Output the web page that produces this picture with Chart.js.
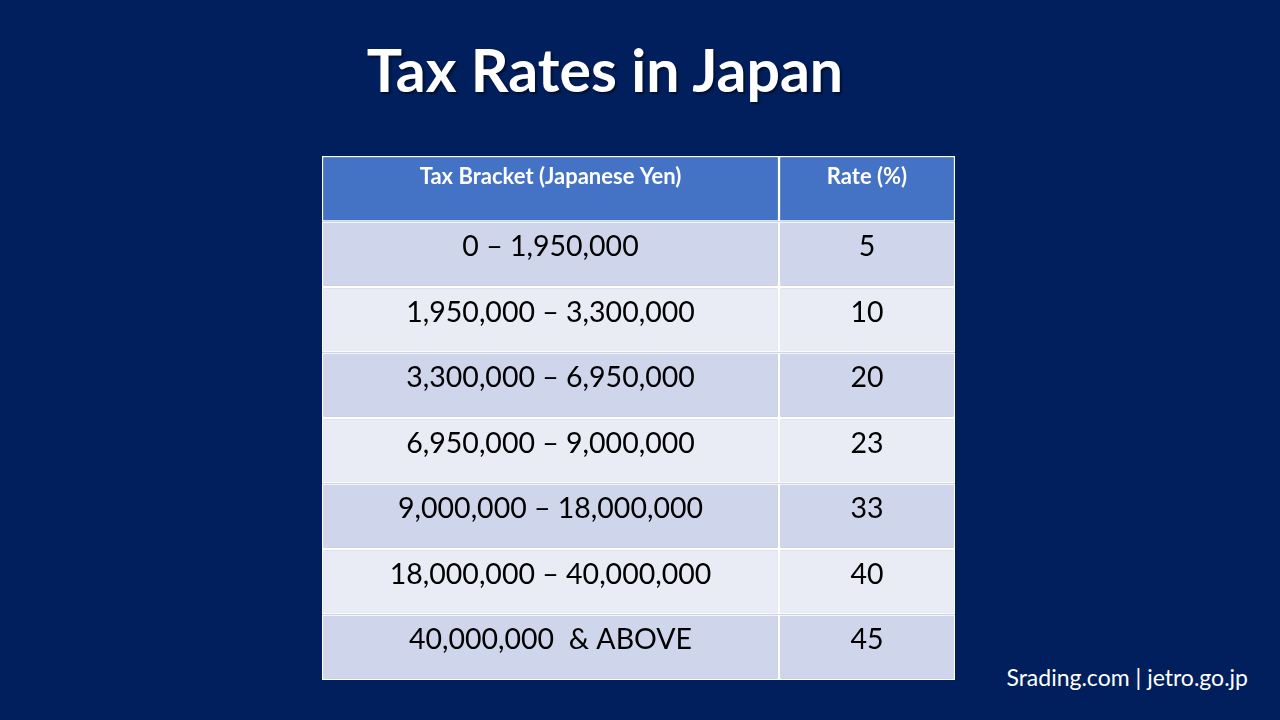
<!DOCTYPE html>
<html>
<head>
<meta charset="utf-8">
<script src="https://cdn.jsdelivr.net/npm/chart.js@4"></script>
<style>
  body { margin: 0; background: #001f5c; width: 1280px; height: 720px; overflow: hidden; position: relative; font-family: Lato, "Open Sans", sans-serif; }
  #title { position: absolute; left: 0; width: 1210px; top: 34px; text-align: center; color: #fff; font-size: 59px; font-weight: bold; text-shadow: 2px 2px 2px rgba(0,0,0,0.5); }
  #source { position: absolute; right: 32px; top: 663px; color: #fff; font-size: 23px; }
  #wrap { position: absolute; left: 0; top: 0; width: 1280px; height: 720px; }
</style>
</head>
<body>
<div id="title">Tax Rates in Japan</div>
<div id="source">Srading.com | jetro.go.jp</div>
<div id="wrap"><canvas id="c"></canvas></div>
<script>
// データ
const headers = ["Tax Bracket (Japanese Yen)", "Rate (%)"];
const brackets = ["0 – 1,950,000", "1,950,000 – 3,300,000", "3,300,000 – 6,950,000", "6,950,000 – 9,000,000",
                  "9,000,000 – 18,000,000", "18,000,000 – 40,000,000", "40,000,000  & ABOVE"];
const rates = ["5", "10", "20", "23", "33", "40", "45"];

const col1Share = 0.722; // 列幅の比率
const rows = ["header", ...brackets];
const rowColor = (i) => i === 0 ? "#4472c4" : (i % 2 === 1 ? "#cfd5ea" : "#e9ebf5");

// セルの文字を描く
const cellText = {
  id: "cellText",
  afterDatasetsDraw(chart) {
    const ctx = chart.ctx;
    ctx.save();
    ctx.textAlign = "center";
    ctx.textBaseline = "middle";
    chart.data.datasets.forEach((ds, di) => {
      chart.getDatasetMeta(di).data.forEach((bar, i) => {
        const x = (bar.base + bar.x) / 2;
        const top = bar.y - bar.height / 2;
        if (i === 0) {
          ctx.fillStyle = "#fff";
          ctx.font = "bold 22px Lato, 'Open Sans', sans-serif";
          ctx.fillText(headers[di], x, top + 21);
        } else {
          ctx.fillStyle = "#000";
          ctx.font = "28.5px Lato, 'Open Sans', sans-serif";
          ctx.fillText(di === 0 ? brackets[i - 1] : rates[i - 1], x, bar.y - 7);
        }
      });
    });
    ctx.restore();
  }
};

new Chart(document.getElementById("c"), {
  type: "bar",
  data: {
    labels: rows,
    datasets: [
      { data: rows.map(() => col1Share), backgroundColor: rows.map((r, i) => rowColor(i)), borderColor: "#fff", borderWidth: 1.5, borderSkipped: false },
      { data: rows.map(() => 1 - col1Share), backgroundColor: rows.map((r, i) => rowColor(i)), borderColor: "#fff", borderWidth: 1.5, borderSkipped: false }
    ]
  },
  options: {
    indexAxis: "y",
    responsive: true,
    maintainAspectRatio: false,
    animation: false,
    barPercentage: 1,
    categoryPercentage: 1,
    layout: { padding: { left: 322, right: 325, top: 156, bottom: 40 } },
    plugins: { legend: { display: false }, tooltip: { enabled: false } },
    scales: {
      x: { stacked: true, min: 0, max: 1, display: false },
      y: { stacked: true, display: false }
    }
  },
  plugins: [cellText]
});
</script>
</body>
</html>
